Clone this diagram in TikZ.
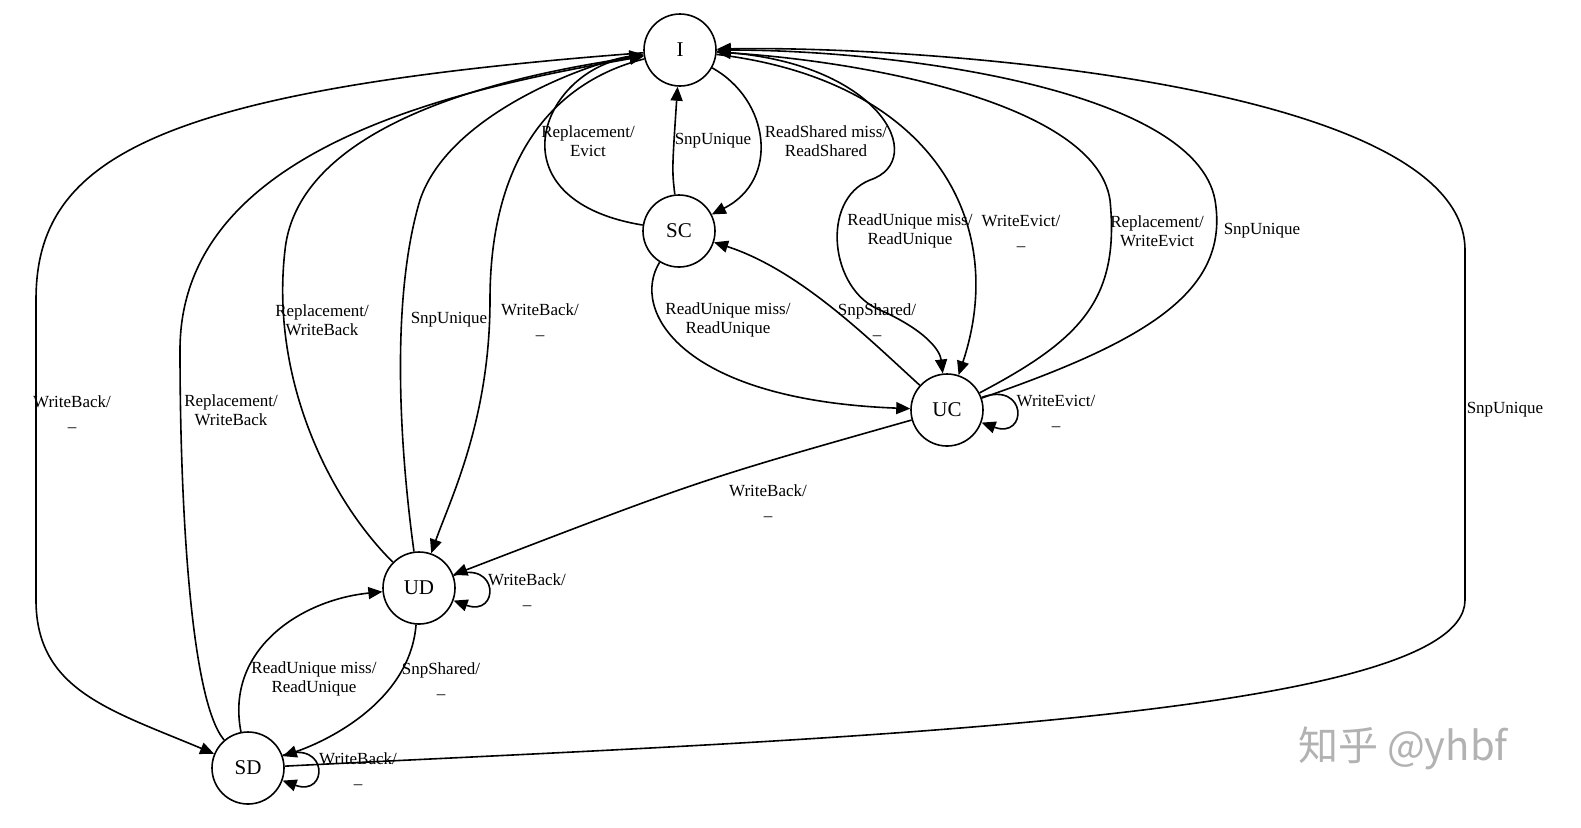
\documentclass[tikz,border=0pt]{standalone}
\usepackage{fontspec}
\setmainfont{Liberation Serif}
\newfontfamily\cjkf{Noto Sans CJK SC}
\usetikzlibrary{arrows.meta}
\begin{document}
\begin{tikzpicture}[x=0.5pt,y=-0.5pt,
  st/.style={circle,draw,line width=0.8pt,minimum size=36pt,inner sep=0pt,font=\fontsize{10.5}{12}\selectfont},
  e/.style={draw,line width=0.8pt,-{Triangle[length=7pt,width=6pt]}},
  lb/.style={font=\fontsize{8.5}{9.5}\selectfont,align=center,inner sep=1pt}]
\fill[white] (0,0) rectangle (1581,827);
\useasboundingbox (0,0) rectangle (1581,827);
\node[st] (I) at (680,50) {I};
\node[st] (SC) at (679,231) {SC};
\node[st] (UC) at (947,410) {UC};
\node[st] (UD) at (419,588) {UD};
\node[st] (SD) at (248,768) {SD};
% I -> SD
\draw[e] (I) .. controls (150,90) and (36,160) .. (36,300) -- (36,600) .. controls (36,690) and (110,710) .. (SD);
\node[lb] at (72,412) {WriteBack/\\\_};
% SD -> I
\draw[e] (SD) .. controls (190,700) and (180,500) .. (180,350) .. controls (180,150) and (450,90) .. (I);
\node[lb] at (231,410) {Replacement/\\WriteBack};
% UD -> I
\draw[e] (UD) .. controls (330,500) and (270,380) .. (285,250) .. controls (300,110) and (550,70) .. (I);
\node[lb] at (322,320) {Replacement/\\WriteBack};
\draw[e] (UD) .. controls (400,450) and (390,300) .. (420,200) .. controls (450,110) and (600,60) .. (I);
\node[lb] at (449,320) {SnpUnique};
% I -> UD
\draw[e] (I) .. controls (560,80) and (490,150) .. (490,300) .. controls (490,420) and (450,500) .. (UD);
\node[lb] at (540,320) {WriteBack/\\\_};
% SC <-> I
\draw[e] (SC) .. controls (490,200) and (540,70) .. (I);
\node[lb] at (588,141) {Replacement/\\Evict};
\draw[e] (SC) .. controls (672,170) .. (I);
\node[lb] at (713,141) {SnpUnique};
\draw[e] (I) .. controls (770,100) and (780,180) .. (SC);
\node[lb] at (826,141) {ReadShared miss/\\ReadShared};
% I -> UC
\draw[e] (I) .. controls (880,60) and (930,160) .. (870,180) .. controls (820,200) and (830,290) .. (880,310) .. controls (925,330) and (940,350) .. (UC);
\node[lb] at (910,231) {ReadUnique miss/\\ReadUnique};
\draw[e] (I) .. controls (930,80) and (1010,220) .. (UC);
\node[lb] at (1021,231) {WriteEvict/\\\_};
% UC -> I
\draw[e] (UC) .. controls (1080,340) and (1120,300) .. (1110,200) .. controls (1095,100) and (850,60) .. (I);
\node[lb] at (1157,231) {Replacement/\\WriteEvict};
\draw[e] (UC) .. controls (1150,340) and (1230,290) .. (1215,200) .. controls (1195,90) and (900,50) .. (I);
\node[lb] at (1262,231) {SnpUnique};
% SD -> I
\draw[e] (SD) .. controls (800,740) and (1465,720) .. (1465,600) -- (1465,250) .. controls (1465,80) and (900,45) .. (I);
\node[lb] at (1505,410) {SnpUnique};
% SC <-> UC
\draw[e] (SC) .. controls (630,310) and (680,400) .. (UC);
\node[lb] at (728,320) {ReadUnique miss/\\ReadUnique};
\draw[e] (UC) .. controls (870,340) and (800,270) .. (SC);
\node[lb] at (877,320) {SnpShared/\\\_};
\draw[e] (UC) to[out=20,in=-20,looseness=5] (UC);
\node[lb] at (1056,411) {WriteEvict/\\\_};
% UC -> UD
\draw[e] (UC) .. controls (700,480) .. (UD);
\node[lb] at (768,501) {WriteBack/\\\_};
\draw[e] (UD) to[out=20,in=-20,looseness=5] (UD);
\node[lb] at (527,590) {WriteBack/\\\_};
% SD <-> UD
\draw[e] (SD) .. controls (225,650) and (300,600) .. (UD);
\node[lb] at (314,679) {ReadUnique miss/\\ReadUnique};
\draw[e] (UD) .. controls (410,700) and (330,740) .. (SD);
\node[lb] at (441,679) {SnpShared/\\\_};
\draw[e] (SD) to[out=20,in=-20,looseness=5] (SD);
\node[lb] at (358,769) {WriteBack/\\\_};
\node[font=\cjkf\fontsize{20}{24}\selectfont,text=gray!60] at (1403,748) {知乎 @yhbf};
\end{tikzpicture}
\end{document}
